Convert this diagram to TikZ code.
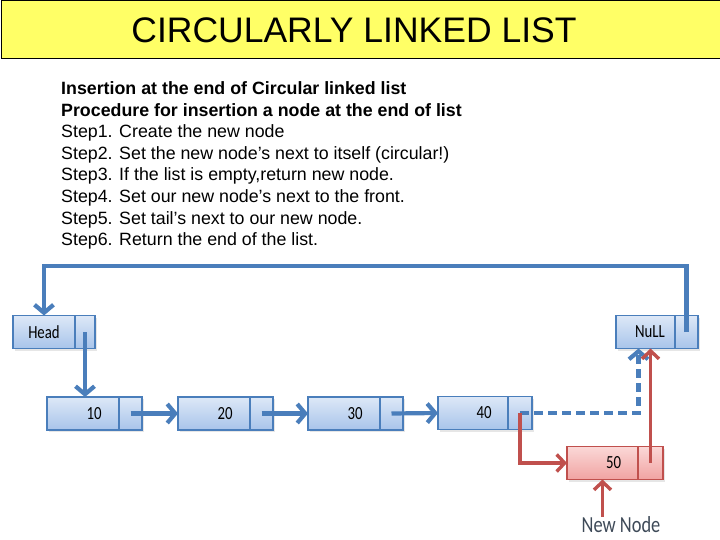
\documentclass[tikz,border=0pt]{standalone}
\usepackage{fontspec}
\setmainfont{Liberation Sans}
\newfontfamily\cellfont{Carlito}
\usetikzlibrary{arrows.meta, positioning, calc, shadows}

\definecolor{linkblue}{HTML}{4A7EBB}
\definecolor{linkred}{HTML}{C0504D}
\definecolor{celltop}{HTML}{DDE8F7}
\definecolor{cellbot}{HTML}{A8C4EA}
\definecolor{newtop}{HTML}{FBD8D7}
\definecolor{newbot}{HTML}{F0A3A2}
\definecolor{titlefill}{HTML}{FFFF66}
\definecolor{labelgray}{HTML}{3E4A58}

\newcommand{\squeeze}[1]{\raisebox{-2pt}{\scalebox{0.8}[1]{#1}}}

\tikzset{
  cell/.style={rectangle, draw=linkblue, line width=1.6pt, top color=celltop, bottom color=cellbot,
    minimum height=33, inner sep=0pt, outer sep=0pt, font=\cellfont\fontsize{18.5}{18.5}\selectfont,
    drop shadow={opacity=0.2, shadow xshift=2pt, shadow yshift=-2pt}},
  newcell/.style={cell, draw=linkred, top color=newtop, bottom color=newbot},
  link/.style={draw=linkblue, line width=4.2pt, -{Straight Barb[length=8pt,width=19pt]}},
  newlink/.style={draw=linkred, line width=3.4pt, -{Straight Barb[length=8pt,width=17pt]}},
}

\begin{document}
\begin{tikzpicture}[x=1pt, y=-1pt]
  \useasboundingbox (0,0) rectangle (720,540);

  % Title bar
  \node[draw=black, line width=1pt, fill=titlefill, minimum width=719, minimum height=58, inner sep=0pt,
    anchor=north west] (title) at (0.5,0.5) {};
  \node[font=\fontsize{35.5}{35.5}\selectfont, anchor=base] (titletext) at (354,43) {CIRCULARLY LINKED LIST};

  % Procedure text
  \node[anchor=north west, inner sep=0pt, align=left, font=\fontsize{17.8}{21.6}\selectfont] (steps) at (61,81.5) {%
    \textbf{Insertion at the end of Circular linked list}\\
    \textbf{Procedure for insertion a node at the end of list}\\
    Step1. Create the new node\\
    Step2. Set the new node’s next to itself (circular!)\\
    Step3. If the list is empty,return new node.\\
    Step4. Set our new node’s next to the front.\\
    Step5. Set tail’s next to our new node.\\
    Step6. Return the end of the list.};

  % Head and NuLL
  \node[cell, minimum width=62] (head) at (44,332) {\squeeze{Head}};
  \node[cell, minimum width=20, right=0pt of head] (headp) {};
  \node[cell, minimum width=59] (null) at (645.5,332) {\hspace*{9pt}\squeeze{NuLL}};
  \node[cell, minimum width=23, right=0pt of null] (nullp) {};

  % List nodes
  \node[cell, minimum width=72] (n10) at (83,413.5) {\hspace*{22pt}\squeeze{10}};
  \node[cell, minimum width=23, right=0pt of n10] (n10p) {};
  \node[cell, minimum width=72] (n20) at (214,413.5) {\hspace*{22pt}\squeeze{20}};
  \node[cell, minimum width=23, right=0pt of n20] (n20p) {};
  \node[cell, minimum width=72] (n30) at (344,413.5) {\hspace*{22pt}\squeeze{30}};
  \node[cell, minimum width=23, right=0pt of n30] (n30p) {};
  \node[cell, minimum width=70] (n40) at (473,413) {\hspace*{22pt}\squeeze{40}};
  \node[cell, minimum width=24, right=0pt of n40] (n40p) {};

  % New node
  \node[newcell, minimum width=71] (n50) at (602.5,463) {\hspace*{22pt}\squeeze{50}};
  \node[newcell, minimum width=25, right=0pt of n50] (n50p) {};
  \node[font=\cellfont\fontsize{23}{23}\selectfont, text=labelgray, inner sep=0pt] (newlbl) at (621,525) {\scalebox{0.8}[1]{New Node}};

  % Links
  \coordinate (looptop) at (0,266);
  \draw[link] (nullp.center) -- (nullp.center |- looptop) -| (head.north);
  \draw[link] (headp.center) -- (headp.center |- n10.north);
  \draw[link] (n10p.center) -- (n20.west);
  \draw[link] (n20p.center) -- (n30.west);
  \draw[link] (n30p.center) -- (n40.west);
  \draw[link, dash pattern=on 9pt off 5pt] (n40p.center) -| ([xshift=-7]null.south);

  % Insertion links
  \draw[newlink] (n40p.center) |- (n50.west);
  \draw[newlink] (n50p.center) -- (n50p.center |- null.south);
  \draw[newlink] (n50.south |- newlbl.north) -- (n50.south);
\end{tikzpicture}
\end{document}
